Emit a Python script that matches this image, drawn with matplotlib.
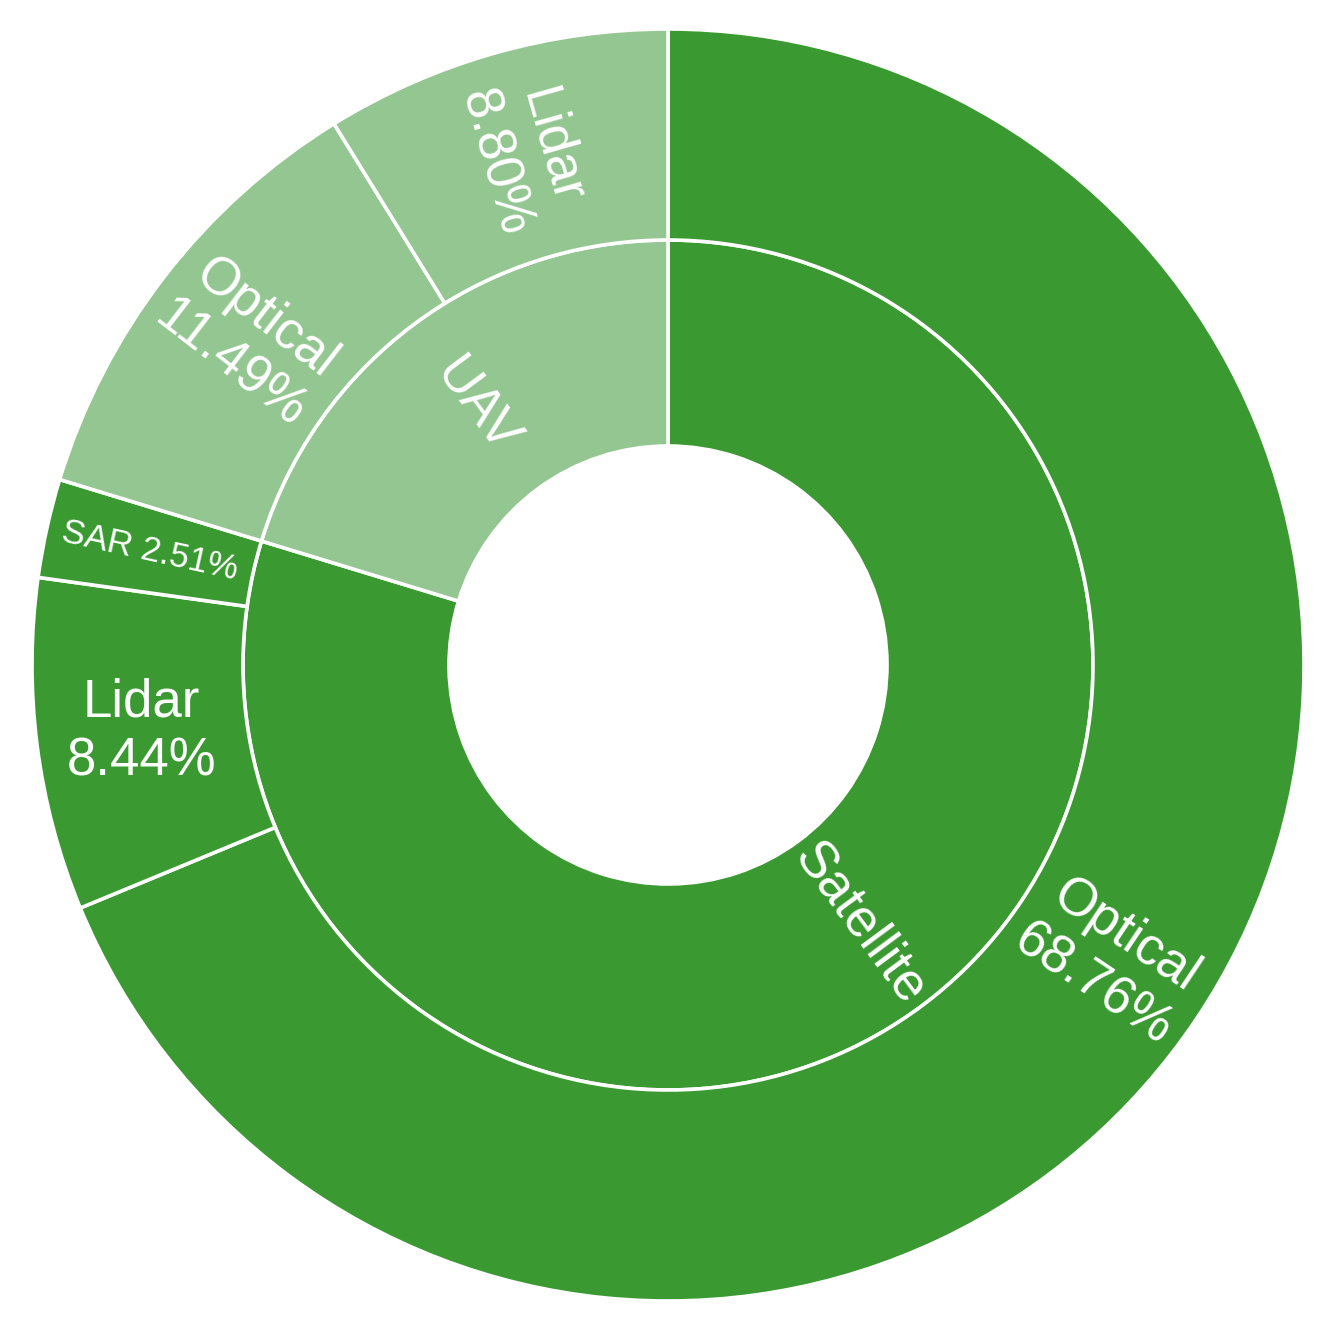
import numpy as np
import matplotlib
matplotlib.use("Agg")
import matplotlib.pyplot as plt

plt.rcParams['font.family'] = ['Liberation Sans', 'DejaVu Sans']

# inner ring
platforms = ["Satellite", "UAV"]
platform_share = [79.71, 20.29]
platform_colors = ["#3a9a31", "#94c692"]

# outer ring
sensors = ["Optical", "Lidar", "SAR", "Optical", "Lidar"]
sensor_share = [68.76, 8.44, 2.51, 11.49, 8.80]
sensor_colors = ["#3a9a31", "#3a9a31", "#3a9a31", "#94c692", "#94c692"]
sensor_labels = ["Optical\n68.76%", "Lidar\n8.44%", "SAR 2.51%", "Optical\n11.49%", "Lidar\n8.80%"]
sensor_orient = ["radial", "horizontal", "radial", "radial", "radial"]
sensor_fsize = [38, 38, 25, 38, 38]

# radii in pixels
r_hole = 219
r_mid = 425
r_out = 636

fig = plt.figure(figsize=(13.37, 13.21), dpi=100)
ax = fig.add_axes([0, 0, 1, 1])

wp = dict(edgecolor="white", linewidth=2.6)
ax.pie(platform_share, radius=r_mid, colors=platform_colors, startangle=90,
       counterclock=False, wedgeprops=dict(width=r_mid - r_hole, **wp))
ax.pie(sensor_share, radius=r_out, colors=sensor_colors, startangle=90,
       counterclock=False, wedgeprops=dict(width=r_out - r_mid, **wp))


def put_labels(shares, labels, r, orients, sizes):
    start = 90.0
    for share, lab, ori, fs in zip(shares, labels, orients, sizes):
        span = share / sum(shares) * 360
        mid = start - span / 2
        start -= span
        a = np.deg2rad(mid)
        if ori == "horizontal":
            rot = 0
        else:
            rot = mid if np.cos(a) > 0 else mid - 180
        ax.text(r * np.cos(a), r * np.sin(a), lab, rotation=rot,
                rotation_mode="anchor", ha="center", va="center",
                color="white", fontsize=fs, linespacing=1.22)


put_labels(platform_share, platforms, (r_hole + r_mid) / 2, ["radial", "radial"], [38, 38])
put_labels(sensor_share, sensor_labels, (r_mid + r_out) / 2, sensor_orient, sensor_fsize)

ax.set_xlim(-668, 1337 - 668)
ax.set_ylim(-(1321 - 665), 665)
ax.set_aspect("auto")
ax.set_axis_off()

fig.savefig("out.png", dpi=100, facecolor="white")
